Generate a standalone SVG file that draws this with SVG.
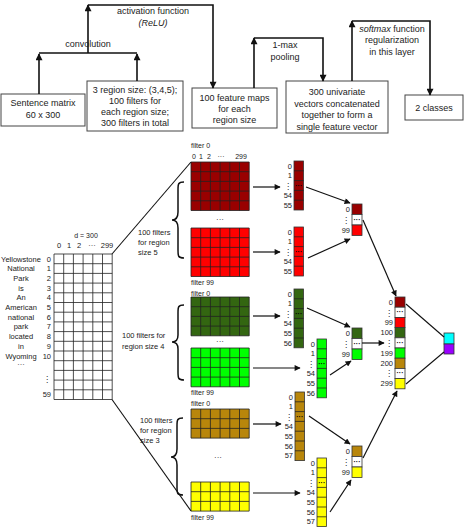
<svg xmlns="http://www.w3.org/2000/svg" width="474" height="529" viewBox="0 0 474 529">
<style>
text{font-family:"Liberation Sans","DejaVu Sans",Arial,sans-serif;fill:#222}
.t9{font-size:9px;text-anchor:middle}
.s{font-size:7.5px}
.f{font-size:7px}
.e{text-anchor:end}
.m{text-anchor:middle}
.d{font-family:"DejaVu Sans",sans-serif;font-size:8px;text-anchor:end}
.dt{font-size:7px;text-anchor:middle;fill:#000;font-weight:bold}
.box{fill:#fff;stroke:#444;stroke-width:1}
.ln{fill:none;stroke:#111;stroke-width:1.6}
.la{fill:none;stroke:#111;stroke-width:1.2}
.ll{fill:none;stroke:#111;stroke-width:1.1}
.gl{fill:none;stroke:#222;stroke-width:0.8}
.ce{stroke:#333;stroke-width:0.8}
.br{fill:none;stroke:#111;stroke-width:1.5}
</style>
<defs>
<marker id="ah" viewBox="0 0 10 10" refX="9" refY="5" markerWidth="8" markerHeight="7" markerUnits="userSpaceOnUse" orient="auto"><path d="M0,0L10,5L0,10z" fill="#111"/></marker>
<marker id="as" viewBox="0 0 10 10" refX="9" refY="5" markerWidth="7" markerHeight="6" markerUnits="userSpaceOnUse" orient="auto"><path d="M0,0L10,5L0,10z" fill="#111"/></marker>
<path id="g5" class="gl" d="M0,0H58.2V48.5H0zM9.7,0V48.5M19.4,0V48.5M29.1,0V48.5M38.8,0V48.5M48.5,0V48.5M0,9.7H58.2M0,19.4H58.2M0,29.1H58.2M0,38.8H58.2"/>
<path id="g4" class="gl" d="M0,0H58.2V38.8H0zM9.7,0V38.8M19.4,0V38.8M29.1,0V38.8M38.8,0V38.8M48.5,0V38.8M0,9.7H58.2M0,19.4H58.2M0,29.1H58.2"/>
<path id="g3" class="gl" d="M0,0H58.2V29.1H0zM9.7,0V29.1M19.4,0V29.1M29.1,0V29.1M38.8,0V29.1M48.5,0V29.1M0,9.7H58.2M0,19.4H58.2"/>
</defs>

<!-- top boxes -->
<g id="sentence-box"><rect class="box" x="1" y="94" width="84" height="32"/><text class="t9" x="43" y="106">Sentence matrix</text><text class="t9" x="43" y="118">60 x 300</text></g>
<g id="region-box"><rect class="box" x="87" y="81" width="96" height="50"/><text class="t9" x="135" y="93">3 region size: (3,4,5);</text><text class="t9" x="135" y="104">100 filters for</text><text class="t9" x="135" y="115">each region size;</text><text class="t9" x="135" y="126">300 filters in total</text></g>
<g id="featuremaps-box"><rect class="box" x="192" y="88" width="85" height="40"/><text class="t9" x="234.5" y="101">100 feature maps</text><text class="t9" x="234.5" y="112">for each</text><text class="t9" x="234.5" y="123">region size</text></g>
<g id="univariate-box"><rect class="box" x="286" y="81" width="102" height="52"/><text class="t9" x="337" y="95">300 univariate</text><text class="t9" x="337" y="107">vectors concatenated</text><text class="t9" x="337" y="118">together to form a</text><text class="t9" x="337" y="130">single feature vector</text></g>
<g id="classes-box"><rect class="box" x="405" y="95" width="58" height="25"/><text class="t9" x="434" y="111">2 classes</text></g>

<!-- top connectors -->
<g id="top-connectors">
<path class="ln" d="M39,94V54" marker-end="url(#ah)"/>
<path class="ln" d="M137,81V54" marker-end="url(#ah)"/>
<path class="ln" d="M39,53H137"/>
<path class="ln" d="M88,53V5" marker-end="url(#ah)"/>
<path class="ln" d="M88,5H213V88" marker-end="url(#ah)"/>
<path class="ln" d="M254,88V38" marker-end="url(#ah)"/>
<path class="ln" d="M254,38H323V81" marker-end="url(#ah)"/>
<path class="ln" d="M352,81V21" marker-end="url(#ah)"/>
<path class="ln" d="M352,21H430V95" marker-end="url(#ah)"/>
<text class="t9" x="88" y="47">convolution</text>
<text class="t9" x="153" y="14">activation function</text>
<text class="t9" x="153" y="26" font-style="italic">(ReLU)</text>
<text class="t9" x="285" y="48">1-max</text>
<text class="t9" x="285" y="60">pooling</text>
<text class="t9" x="392" y="32"><tspan font-style="italic">softmax</tspan> function</text>
<text class="t9" x="392" y="43">regularization</text>
<text class="t9" x="392" y="55">in this layer</text>
</g>

<!-- sentence matrix -->
<g id="matrix">
<rect x="54" y="254" width="58.2" height="145.5" fill="#fff"/>
<path class="gl" d="M54,254H112.2V399.5H54zM63.7,254V399.5M73.4,254V399.5M83.1,254V399.5M92.8,254V399.5M102.5,254V399.5M54,263.7H112.2M54,273.4H112.2M54,283.1H112.2M54,292.8H112.2M54,302.5H112.2M54,312.2H112.2M54,321.9H112.2M54,331.6H112.2M54,341.3H112.2M54,351H112.2M54,360.7H112.2M54,370.4H112.2M54,380.1H112.2M54,389.8H112.2"/>
<text class="f m" x="86" y="237.5">d = 300</text>
<text class="s m" x="59" y="248">0</text><text class="s m" x="69" y="248">1</text><text class="s m" x="79" y="248">2</text><text class="s m" x="92" y="248">···</text><text class="s m" x="107" y="248">299</text>
<g class="s m">
<text x="21" y="261.5">Yellowstone</text><text x="21" y="271.2">National</text><text x="21" y="281">Park</text><text x="21" y="290.6">is</text><text x="21" y="300.3">An</text><text x="21" y="310">American</text><text x="21" y="319.7">national</text><text x="21" y="329.4">park</text><text x="21" y="339.1">located</text><text x="21" y="348.8">in</text><text x="21" y="358.5">Wyoming</text><text x="21" y="367">···</text>
</g>
<g class="s e">
<text x="51" y="261.5">0</text><text x="51" y="271.2">1</text><text x="51" y="281">2</text><text x="51" y="290.6">3</text><text x="51" y="300.3">4</text><text x="51" y="310">5</text><text x="51" y="319.7">6</text><text x="51" y="329.4">7</text><text x="51" y="339.1">8</text><text x="51" y="348.8">9</text><text x="51" y="358.5">10</text><text x="51" y="397.3">59</text>
</g>
<text class="d" x="51" y="382" font-size="11">⋮</text>
</g>

<!-- filters -->
<g id="filters-5">
<text class="f" x="191" y="147.5">filter 0</text>
<text class="f m" x="194" y="159">0</text><text class="f m" x="201" y="159">1</text><text class="f m" x="209" y="159">2</text><text class="f m" x="221" y="159">···</text><text class="f m" x="241" y="159">299</text>
<g transform="translate(191,162)"><rect width="58.2" height="48.5" fill="#990000"/><use href="#g5"/></g>
<text class="m" font-size="8" x="220" y="222">···</text>
<g transform="translate(191,228)"><rect width="58.2" height="48.5" fill="#ff0000"/><use href="#g5"/></g>
<text class="f" x="191" y="285">filter 99</text>
<path class="br" d="M184,182C178,182 178,184 178,190L178,212C178,218 176,220 172,220C176,220 178,222 178,228L178,250C178,256 178,258 184,258"/>
<text class="s" x="138" y="234.7">100 filters</text><text class="s" x="138" y="244.7">for region</text><text class="s" x="138" y="254.7">size 5</text>
</g>
<g id="filters-4">
<text class="f" x="191" y="295.5">filter 0</text>
<g transform="translate(191,297)"><rect width="58.2" height="38.8" fill="#336611"/><use href="#g4"/></g>
<text class="m" font-size="8" x="220" y="344">···</text>
<g transform="translate(191,348)"><rect width="58.2" height="38.8" fill="#00ff00"/><use href="#g4"/></g>
<text class="f" x="191" y="395">filter 99</text>
<path class="br" d="M184,305C178,305 178,307 178,313L178,335C178,340 176,342 172,342C176,342 178,344 178,349L178,372C178,378 178,380 184,380"/>
<text class="s" x="122" y="338">100 filters for</text><text class="s" x="122" y="349">region size 4</text>
</g>
<g id="filters-3">
<text class="f" x="191" y="406">filter 0</text>
<g transform="translate(191,409)"><rect width="58.2" height="29.1" fill="#b8860b"/><use href="#g3"/></g>
<text class="m" font-size="8" x="218" y="460">···</text>
<g transform="translate(191,482)"><rect width="58.2" height="29.1" fill="#ffff00"/><use href="#g3"/></g>
<text class="f" x="191" y="520">filter 99</text>
<path class="br" d="M183,418C177,418 177,420 177,426L177,449C177,455 175,457 171,457C175,457 177,459 177,465L177,487C177,493 177,495 183,495"/>
<text class="s" x="140" y="422.7">100 filters</text><text class="s" x="140" y="432.7">for region</text><text class="s" x="140" y="442.7">size 3</text>
</g>

<!-- feature map vectors -->
<g id="fmap-5-0" transform="translate(294,161)">
<rect width="9.5" height="49" fill="#990000" class="ce"/><path class="gl" d="M0,9.8H9.5M0,19.6H9.5M0,29.4H9.5M0,39.2H9.5"/>
<text class="dt" x="4.75" y="27">···</text>
<g class="s e"><text x="-2" y="7.6">0</text><text x="-2" y="17.4">1</text><text x="-2" y="36.9">54</text><text x="-2" y="46.7">55</text></g>
<text class="d" x="-2" y="28">⋮</text>
</g>
<g id="fmap-5-99" transform="translate(294,227)">
<rect width="9.5" height="49" fill="#ff0000" class="ce"/><path class="gl" d="M0,9.8H9.5M0,19.6H9.5M0,29.4H9.5M0,39.2H9.5"/>
<text class="dt" x="4.75" y="27">···</text>
<g class="s e"><text x="-2" y="7.6">0</text><text x="-2" y="17.4">1</text><text x="-2" y="36.9">54</text><text x="-2" y="46.7">55</text></g>
<text class="d" x="-2" y="28">⋮</text>
</g>
<g id="fmap-4-0" transform="translate(294,289)">
<rect width="9.5" height="58.8" fill="#336611" class="ce"/><path class="gl" d="M0,9.8H9.5M0,19.6H9.5M0,29.4H9.5M0,39.2H9.5M0,49H9.5"/>
<text class="dt" x="4.75" y="27">···</text>
<g class="s e"><text x="-2" y="7.6">0</text><text x="-2" y="17.4">1</text><text x="-2" y="36.9">54</text><text x="-2" y="46.7">55</text><text x="-2" y="56.5">56</text></g>
<text class="d" x="-2" y="28">⋮</text>
</g>
<g id="fmap-4-99" transform="translate(317,339)">
<rect width="9.5" height="58.8" fill="#00ff00" class="ce"/><path class="gl" d="M0,9.8H9.5M0,19.6H9.5M0,29.4H9.5M0,39.2H9.5M0,49H9.5"/>
<text class="dt" x="4.75" y="27">···</text>
<g class="s e"><text x="-2" y="7.6">0</text><text x="-2" y="17.4">1</text><text x="-2" y="36.9">54</text><text x="-2" y="46.7">55</text><text x="-2" y="56.5">56</text></g>
<text class="d" x="-2" y="28">⋮</text>
</g>
<g id="fmap-3-0" transform="translate(295,392)">
<rect width="9.5" height="68.6" fill="#b8860b" class="ce"/><path class="gl" d="M0,9.8H9.5M0,19.6H9.5M0,29.4H9.5M0,39.2H9.5M0,49H9.5M0,58.8H9.5"/>
<text class="dt" x="4.75" y="27">···</text>
<g class="s e"><text x="-2" y="7.6">0</text><text x="-2" y="17.4">1</text><text x="-2" y="36.9">54</text><text x="-2" y="46.7">55</text><text x="-2" y="56.5">56</text><text x="-2" y="66.3">57</text></g>
<text class="d" x="-2" y="28">⋮</text>
</g>
<g id="fmap-3-99" transform="translate(317,458)">
<rect width="9.5" height="68.6" fill="#ffff00" class="ce"/><path class="gl" d="M0,9.8H9.5M0,19.6H9.5M0,29.4H9.5M0,39.2H9.5M0,49H9.5M0,58.8H9.5"/>
<text class="dt" x="4.75" y="27">···</text>
<g class="s e"><text x="-2" y="7.6">0</text><text x="-2" y="17.4">1</text><text x="-2" y="36.9">54</text><text x="-2" y="46.7">55</text><text x="-2" y="56.5">56</text><text x="-2" y="66.3">57</text></g>
<text class="d" x="-2" y="28">⋮</text>
</g>

<!-- pooled vectors -->
<g id="pooled-5" transform="translate(352,204)">
<rect width="10" height="10.5" fill="#990000" class="ce"/><rect y="10.5" width="10" height="10.5" fill="#fff" class="ce"/><rect y="21" width="10" height="10.5" fill="#ff0000" class="ce"/>
<text class="dt" x="5" y="17.5">···</text>
<g class="s e"><text x="-2" y="8">0</text><text x="-2" y="29">99</text></g><text class="d" x="-2" y="19">⋮</text>
</g>
<g id="pooled-4" transform="translate(352,328)">
<rect width="10" height="10.5" fill="#336611" class="ce"/><rect y="10.5" width="10" height="10.5" fill="#fff" class="ce"/><rect y="21" width="10" height="10.5" fill="#00ff00" class="ce"/>
<text class="dt" x="5" y="17.5">···</text>
<g class="s e"><text x="-2" y="8">0</text><text x="-2" y="29">99</text></g><text class="d" x="-2" y="19">⋮</text>
</g>
<g id="pooled-3" transform="translate(352,446)">
<rect width="10" height="10.5" fill="#b8860b" class="ce"/><rect y="10.5" width="10" height="10.5" fill="#fff" class="ce"/><rect y="21" width="10" height="10.5" fill="#ffff00" class="ce"/>
<text class="dt" x="5" y="17.5">···</text>
<g class="s e"><text x="-2" y="8">0</text><text x="-2" y="29">99</text></g><text class="d" x="-2" y="19">⋮</text>
</g>

<!-- concatenated vector -->
<g id="concat" transform="translate(395,297)">
<rect y="0" width="10" height="10.2" fill="#990000" class="ce"/>
<rect y="10.2" width="10" height="10.2" fill="#fff" class="ce"/>
<rect y="20.4" width="10" height="10.2" fill="#ff0000" class="ce"/>
<rect y="30.6" width="10" height="10.2" fill="#336611" class="ce"/>
<rect y="40.8" width="10" height="10.2" fill="#fff" class="ce"/>
<rect y="51" width="10" height="10.2" fill="#00ff00" class="ce"/>
<rect y="61.2" width="10" height="10.2" fill="#b8860b" class="ce"/>
<rect y="71.4" width="10" height="10.2" fill="#fff" class="ce"/>
<rect y="81.6" width="10" height="10.2" fill="#ffff00" class="ce"/>
<text class="dt" x="5" y="17">···</text><text class="dt" x="5" y="47.6">···</text><text class="dt" x="5" y="78">···</text>
<g class="s e"><text x="-2" y="7.8">0</text><text x="-2" y="28.2">99</text><text x="-2" y="38.4">100</text><text x="-2" y="58.8">199</text><text x="-2" y="69">200</text><text x="-2" y="89.4">299</text></g>
<text class="d" x="-2" y="18.5">⋮</text><text class="d" x="-2" y="48.7">⋮</text><text class="d" x="-2" y="79">⋮</text>
</g>

<!-- output -->
<g id="output">
<rect x="444" y="333" width="10" height="11" fill="#00ffff" class="ce"/>
<rect x="444" y="344" width="10" height="10" fill="#9900ff" class="ce"/>
</g>

<!-- lower connectors -->
<g id="connectors">
<path class="ll" d="M112,254L191,162"/>
<path class="ll" d="M112,399.5L191,511"/>
<path class="la" d="M253,187H280" marker-end="url(#as)"/>
<path class="la" d="M253,252H280" marker-end="url(#as)"/>
<path class="la" d="M253,316H280" marker-end="url(#as)"/>
<path class="la" d="M253,368H300" marker-end="url(#as)"/>
<path class="la" d="M253,424H281" marker-end="url(#as)"/>
<path class="la" d="M253,493H300" marker-end="url(#as)"/>
<path class="la" d="M306,187L350,203" marker-end="url(#as)"/>
<path class="la" d="M308,258L350,239" marker-end="url(#as)"/>
<path class="la" d="M307,308L350,327" marker-end="url(#as)"/>
<path class="la" d="M330,375L351,361" marker-end="url(#as)"/>
<path class="la" d="M309,416L350,444" marker-end="url(#as)"/>
<path class="la" d="M330,512L351,480" marker-end="url(#as)"/>
<path class="la" d="M363,220L396,296" marker-end="url(#as)"/>
<path class="la" d="M362,343H384" marker-end="url(#as)"/>
<path class="la" d="M363,458L397,391" marker-end="url(#as)"/>
<path class="ll" d="M406,304L444,337"/>
<path class="ll" d="M406,384L444,352"/>
</g>
</svg>
